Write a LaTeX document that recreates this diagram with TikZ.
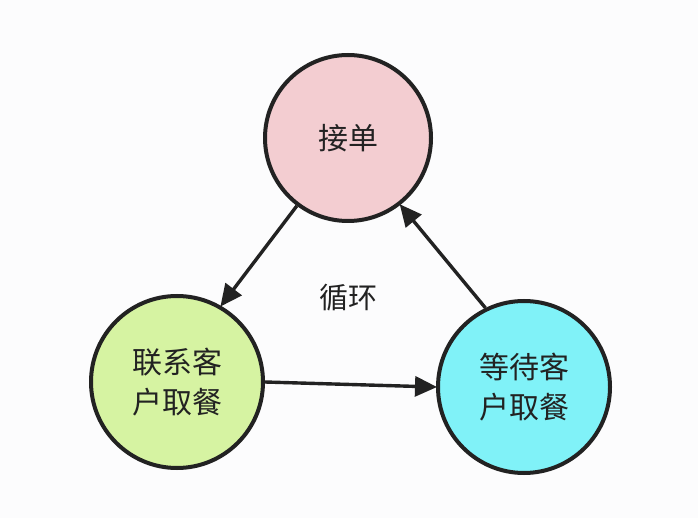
\documentclass[tikz,border=0pt]{standalone}
\usepackage{fontspec}
\newfontfamily\cjk{Noto Sans CJK SC}
\usetikzlibrary{arrows.meta}
\definecolor{pinkfill}{HTML}{F3CDD1}
\definecolor{greenfill}{HTML}{D6F3A2}
\definecolor{cyanfill}{HTML}{80F2F8}
\definecolor{edge}{HTML}{222222}
\definecolor{bg}{HTML}{FCFCFD}
\tikzset{
  x=1pt, y=-1pt,
  stage/.style={circle, draw=edge, line width=4pt, minimum size=166pt, inner sep=0pt,
    font=\cjk\fontsize{30}{40}\selectfont, text=edge, align=center},
  flow/.style={draw=edge, line width=3.4pt, -{Triangle[length=22pt,width=20pt]}, shorten >=-1pt},
}
\begin{document}
\begin{tikzpicture}
\fill[bg] (0,0) rectangle (698,518);
\useasboundingbox (0,0) rectangle (698,518);
\node[stage, fill=pinkfill] (top) at (348,138) {接单};
\node[stage, fill=greenfill, minimum size=172pt] (left) at (177,382) {联系客\\户取餐};
\node[stage, fill=cyanfill, minimum size=172pt] (right) at (524,387) {等待客\\户取餐};
\node[font=\cjk\fontsize{29}{30}\selectfont, text=edge] (loop) at (348,298) {循环};
\draw[flow] (top.233) -- (left.60);
\draw[flow] (left.east) -- (right.west);
\draw[flow] (right.116) -- (top.308);
\end{tikzpicture}
\end{document}
